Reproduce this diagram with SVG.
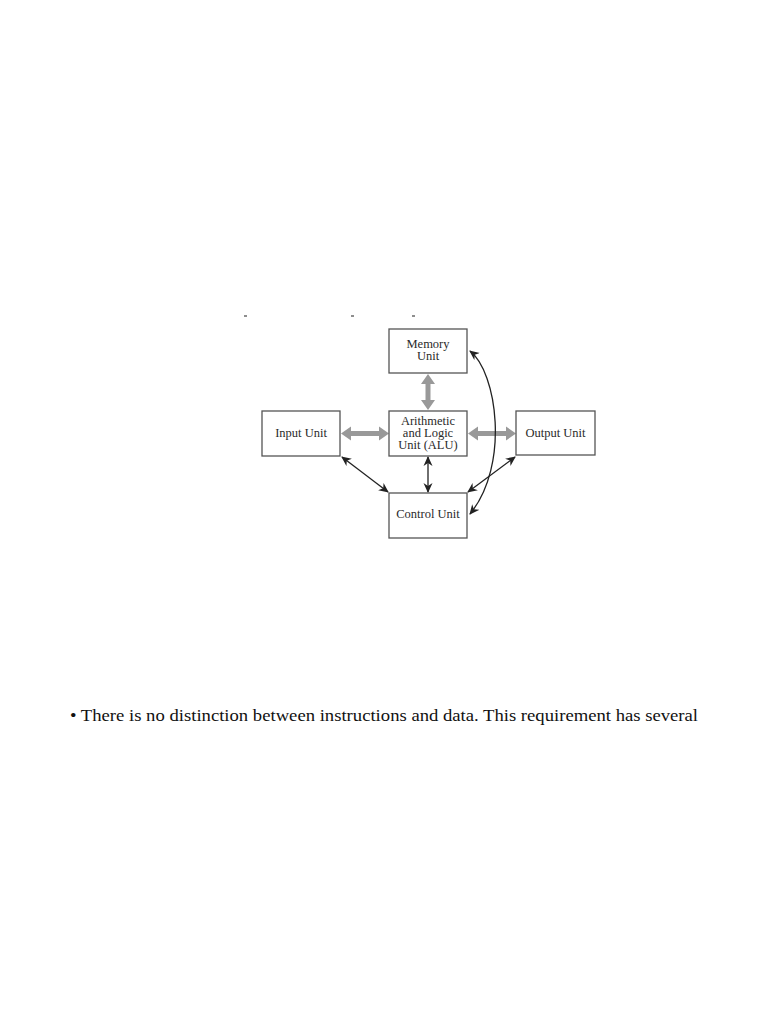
<svg xmlns="http://www.w3.org/2000/svg" width="768" height="1024" viewBox="0 0 768 1024">
<style>
.box{fill:#fff;stroke:#555;stroke-width:1.3}
.lbl{font-family:"Liberation Serif","Times New Roman",serif;font-size:12.5px;fill:#2a2a2a;text-anchor:middle}
.thin{fill:none;stroke:#222;stroke-width:1.3;marker-start:url(#ah);marker-end:url(#ah)}
.fat{fill:#999;stroke:none}
.body{font-family:"Liberation Serif","Times New Roman",serif;font-size:17.5px;fill:#111}
</style>
<defs>
<marker id="ah" viewBox="0 0 10 10" refX="9" refY="5" markerWidth="10" markerHeight="10" orient="auto-start-reverse" markerUnits="userSpaceOnUse">
<path d="M0,0.5 L10,5 L0,9.5 L3,5 z" fill="#222"/>
</marker>
</defs>
<rect width="768" height="1024" fill="#fff"/>
<g id="marks" stroke="#444" stroke-width="1.2">
<line x1="244" y1="316" x2="247" y2="316"/>
<line x1="351" y1="316" x2="354" y2="316"/>
<line x1="412" y1="316" x2="415" y2="316"/>
</g>
<g id="connectors">
<path class="fat" d="M428,374 L435,384 L430.5,384 L430.5,400 L435,400 L428,410 L421,400 L425.5,400 L425.5,384 L421,384 z"/>
<path class="fat" d="M341,433.5 L351,426.5 L351,431 L379,431 L379,426.5 L389,433.5 L379,440.5 L379,436 L351,436 L351,440.5 z"/>
<path class="fat" d="M468,433.5 L478,426.5 L478,431 L506,431 L506,426.5 L516,433.5 L506,440.5 L506,436 L478,436 L478,440.5 z"/>
<line class="thin" x1="342" y1="457" x2="388" y2="492"/>
<line class="thin" x1="428" y1="457" x2="428" y2="492"/>
<line class="thin" x1="515" y1="457" x2="468" y2="492"/>
<path class="thin" d="M470,351 C497,372 510,465 470,514"/>
</g>
<g id="memory">
<rect class="box" x="389" y="329" width="78" height="44"/>
<text class="lbl" x="428" y="347.5">Memory</text>
<text class="lbl" x="428" y="360">Unit</text>
</g>
<g id="alu">
<rect class="box" x="389" y="411" width="78" height="45"/>
<text class="lbl" x="428" y="425">Arithmetic</text>
<text class="lbl" x="428" y="437">and Logic</text>
<text class="lbl" x="428" y="449">Unit (ALU)</text>
</g>
<g id="input">
<rect class="box" x="262" y="411" width="78" height="45"/>
<text class="lbl" x="301" y="437">Input Unit</text>
</g>
<g id="output">
<rect class="box" x="516" y="411" width="79" height="44"/>
<text class="lbl" x="555.5" y="437">Output Unit</text>
</g>
<g id="control">
<rect class="box" x="389" y="493" width="78" height="45"/>
<text class="lbl" x="428" y="518">Control Unit</text>
</g>
<text class="body" x="70" y="721" textLength="628" lengthAdjust="spacingAndGlyphs">• There is no distinction between instructions and data. This requirement has several</text>
</svg>
